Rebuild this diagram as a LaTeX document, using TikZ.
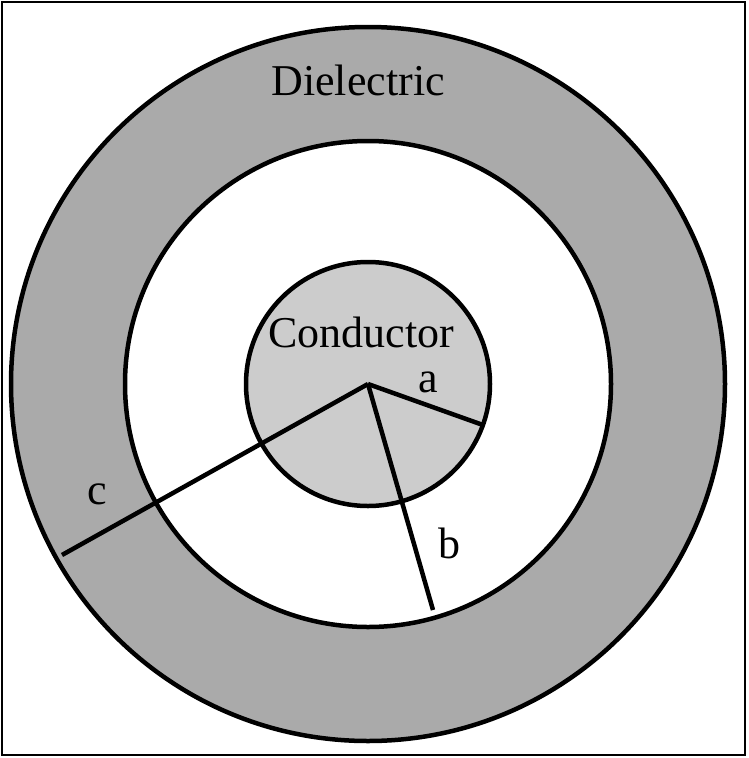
\documentclass[tikz,border=0pt]{standalone}
\usepackage{fontspec}
\setmainfont{Liberation Serif}
\begin{document}
\begin{tikzpicture}[x=1pt,y=-1pt,
  ring/.style={line width=4.5pt,draw=black},
  rad/.style={line width=4.5pt},
  lbl/.style={font=\fontsize{44}{48}\selectfont,inner sep=0pt}]
\useasboundingbox (0,0) rectangle (748,758);
\draw[line width=2pt] (2,2) rectangle (745,755);
\coordinate (o) at (368,384);
\draw[ring,fill={rgb,255:red,170;green,170;blue,170}] (o) circle (357);
\draw[ring,fill=white] (o) circle (243);
\draw[ring,fill={rgb,255:red,204;green,204;blue,204}] (o) circle (122);
\coordinate (pa) at (483,425);
\coordinate (pb) at (433,610);
\coordinate (pc) at (62,555);
\draw[rad] (o) -- (pa);
\draw[rad] (o) -- (pb);
\draw[rad] (o) -- (pc);
\node[lbl] (d) at (358,80) {Dielectric};
\node[lbl] (cd) at (361,332) {Conductor};
\node[lbl] (la) at (428,382) {a};
\node[lbl] (lb) at (449,543) {b};
\node[lbl] (lc) at (97,494) {c};
\end{tikzpicture}
\end{document}
